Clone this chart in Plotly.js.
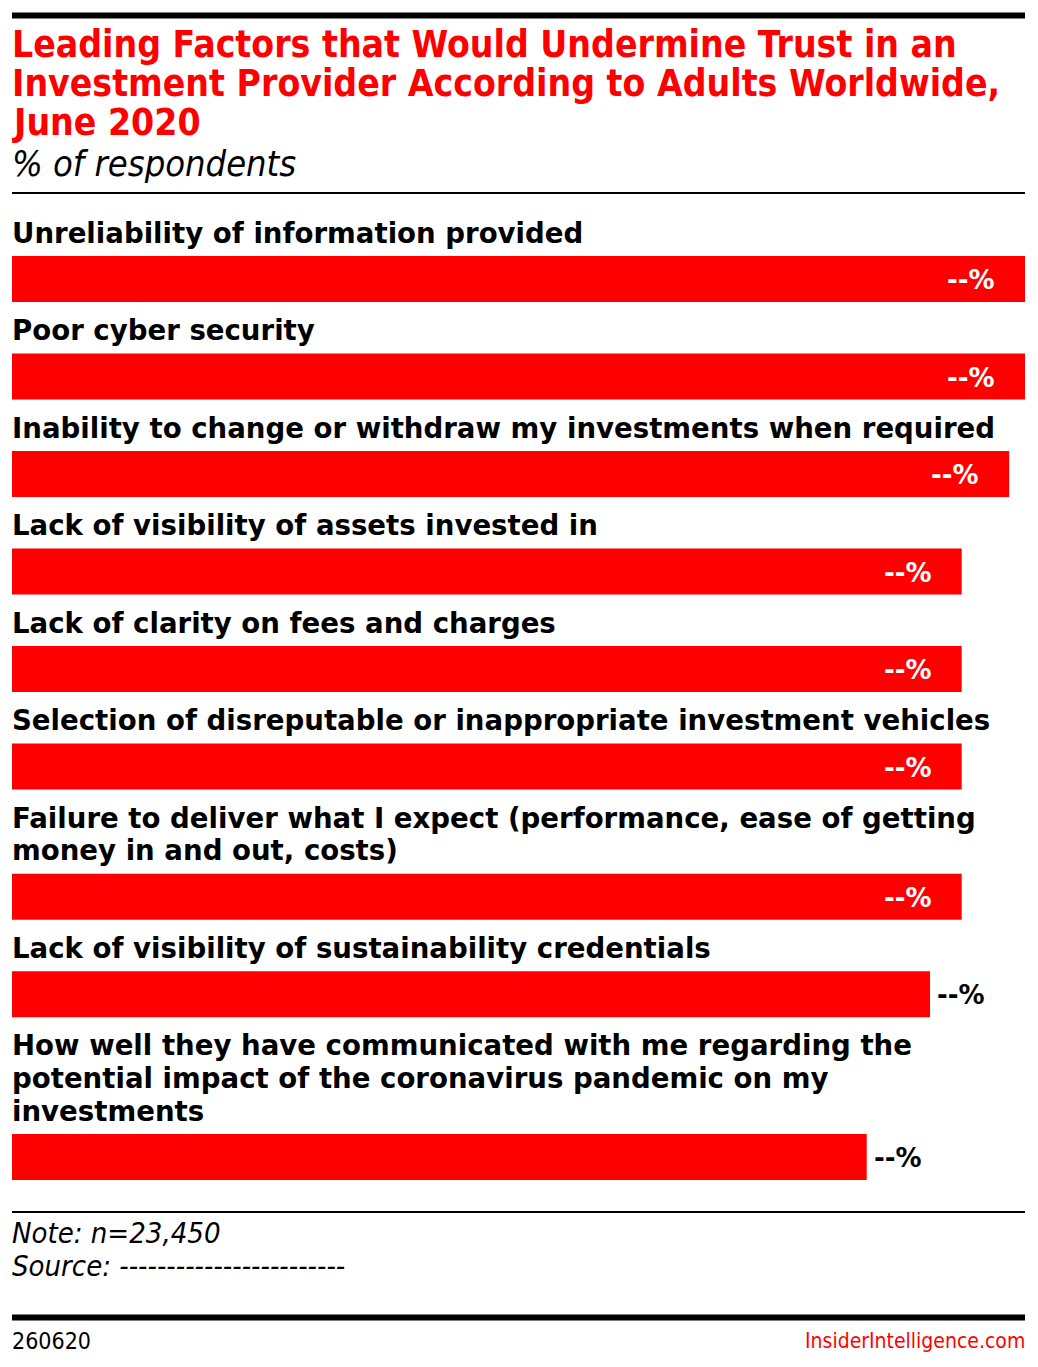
<!DOCTYPE html>
<html>
<head>
<meta charset="utf-8">
<script src="https://cdn.plot.ly/plotly-3.0.1.min.js"></script>
<style>html,body{margin:0;padding:0;background:#fff;}#chart{width:1038px;height:1367px;}</style>
</head>
<body>
<div id="chart"></div>
<script>
// ---- data ----
var titleLines = [
  "Leading Factors that Would Undermine Trust in an",
  "Investment Provider According to Adults Worldwide,",
  "June 2020"
];
var subtitle = "% of respondents";
var categories = [
  "Unreliability of information provided",
  "Poor cyber security",
  "Inability to change or withdraw my investments when required",
  "Lack of visibility of assets invested in",
  "Lack of clarity on fees and charges",
  "Selection of disreputable or inappropriate investment vehicles",
  "Failure to deliver what I expect (performance, ease of getting<br>money in and out, costs)",
  "Lack of visibility of sustainability credentials",
  "How well they have communicated with me regarding the<br>potential impact of the coronavirus pandemic on my<br>investments"
];
var values = [64, 64, 63, 60, 60, 60, 60, 58, 54];
var valueLabels = ["--%", "--%", "--%", "--%", "--%", "--%", "--%", "--%", "--%"];
var noteText = "Note: n=23,450";
var sourceText = "Source: ------------------------";
var chartId = "260620";
var brand = "InsiderIntelligence.com";

// ---- layout constants ----
var W = 1038, H = 1367;
var RED = "#ff0000";
var TITLE_FONT = "DejaVu Sans Condensed, Liberation Sans Narrow, sans-serif";
var LABEL_FONT = "DejaVu Sans, Noto Sans, sans-serif";
var barH = 46, firstBarTop = 256, pitch = 97.5, lineH = 32.7;
var maxVal = 64;

// compute bar centers from number of label lines
var lines = categories.map(function (c) { return c.split("<br>"); });
var centers = [];
var barTopPos = firstBarTop;
for (var i = 0; i < categories.length; i++) {
  if (i > 0) barTopPos += pitch + (lines[i].length - 1) * lineH;
  centers.push(barTopPos + barH / 2);
}

var annotations = [];
function addText(txt, x, y, xanchor, font) {
  annotations.push({
    text: txt, xref: "paper", yref: "y", x: x, y: y,
    xanchor: xanchor, yanchor: "middle", showarrow: false,
    xshift: xanchor === "left" ? -2 : 2,
    font: font, align: "left"
  });
}

// title
titleLines.forEach(function (t, k) {
  addText("<b>" + t + "</b>", 0, 44 + k * 39, "left", {family: TITLE_FONT, size: 37, color: RED});
});
addText("<i>" + subtitle + "</i>", 0, 163, "left", {family: TITLE_FONT, size: 36, color: "#000"});

// category labels
for (var i = 0; i < categories.length; i++) {
  var bt = centers[i] - barH / 2;
  var n = lines[i].length;
  lines[i].forEach(function (ln, k) {
    addText("<b>" + ln + "</b>", 0, bt - 23 - (n - 1 - k) * lineH, "left",
      {family: LABEL_FONT, size: 27.6, color: "#000"});
  });
}

// value labels
for (var i = 0; i < values.length; i++) {
  var inside = values[i] >= 60;
  annotations.push({
    text: "<b>" + valueLabels[i] + "</b>", xref: "x", yref: "y",
    x: values[i], y: centers[i] + 1, xanchor: inside ? "right" : "left",
    xshift: inside ? -28 : 5, yanchor: "middle", showarrow: false,
    font: {family: LABEL_FONT, size: 26, color: inside ? "#fff" : "#000"}
  });
}

// footer
addText("<i>" + noteText + "</i>", 0, 1233, "left", {family: TITLE_FONT, size: 29, color: "#000"});
addText("<i>" + sourceText + "</i>", 0, 1266, "left", {family: TITLE_FONT, size: 29, color: "#000"});
addText(chartId, 0, 1341, "left", {family: TITLE_FONT, size: 23, color: "#000"});
addText(brand, 1, 1341, "right", {family: TITLE_FONT, size: 21, color: RED});

var shapes = [
  {type: "line", xref: "paper", yref: "y", x0: 0, x1: 1, y0: 15.5, y1: 15.5, line: {color: "#000", width: 6}},
  {type: "line", xref: "paper", yref: "y", x0: 0, x1: 1, y0: 193, y1: 193, line: {color: "#000", width: 2}},
  {type: "line", xref: "paper", yref: "y", x0: 0, x1: 1, y0: 1212, y1: 1212, line: {color: "#000", width: 2}},
  {type: "line", xref: "paper", yref: "y", x0: 0, x1: 1, y0: 1317.5, y1: 1317.5, line: {color: "#000", width: 6}}
];

var trace = {
  type: "bar", orientation: "h",
  x: values, y: centers, width: barH,
  marker: {color: RED, line: {width: 0}},
  hoverinfo: "skip"
};

var layout = {
  width: W, height: H,
  margin: {l: 12, r: 13, t: 0, b: 0},
  paper_bgcolor: "#fff", plot_bgcolor: "#fff",
  showlegend: false,
  xaxis: {range: [0, maxVal], visible: false, fixedrange: true},
  yaxis: {range: [H, 0], visible: false, fixedrange: true},
  annotations: annotations,
  shapes: shapes
};

Plotly.newPlot("chart", [trace], layout, {displayModeBar: false, staticPlot: true});
</script>
</body>
</html>
